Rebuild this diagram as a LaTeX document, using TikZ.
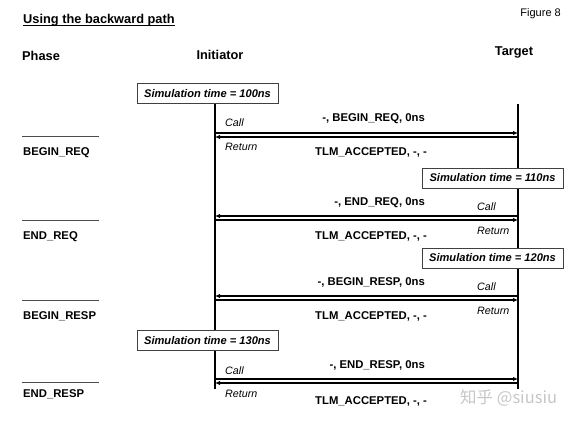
\documentclass[tikz,border=0pt]{standalone}
\usepackage{fontspec}
\setmainfont{Liberation Sans}
\newfontfamily\cjkfont{Noto Sans CJK SC}
\usetikzlibrary{arrows.meta}
\begin{document}
\begin{tikzpicture}[x=1pt,y=-1pt,
  lbl/.style={font=\fontsize{11.3}{13}\selectfont\bfseries, inner sep=0},
  hdr/.style={font=\fontsize{12.8}{15}\selectfont\bfseries, inner sep=0},
  cr/.style={font=\fontsize{10.7}{13}\selectfont\itshape, inner sep=0},
  simbox/.style={draw=black!75, line width=0.8pt, fill=white, minimum width=141pt, minimum height=20pt, inner sep=0, font=\fontsize{11.1}{13}\selectfont\bfseries\itshape},
  life/.style={line width=2pt},
  msg/.style={line width=1.2pt, -{Latex[length=5pt,width=4.5pt]}},
  sep/.style={line width=1pt, black!70}]
\fill[white] (0,0) rectangle (579,422);
\useasboundingbox (0,0) rectangle (579,422);

% title and headers
\node[hdr, anchor=base west] (title) at (23,24) {Using the backward path};
\draw[line width=1pt] ([yshift=-1.6pt]title.base west) -- ([yshift=-1.6pt]title.base east);
\node[font=\fontsize{11}{13}\selectfont, inner sep=0, anchor=base east] (fig) at (561,16.5) {Figure 8};
\node[hdr, anchor=base west] (phase) at (22,60.6) {Phase};
\node[hdr, anchor=base] (init) at (220,59.6) {Initiator};
\node[hdr, anchor=base] (targ) at (514,55.6) {Target};

% lifelines
\coordinate (I1) at (215,104);
\coordinate (I2) at (215,389);
\coordinate (T1) at (518,104);
\coordinate (T2) at (518,389);
\draw[life] (I1) -- (I2);
\draw[life] (T1) -- (T2);

% simulation time boxes
\node[simbox] (s100) at (207.5,93.5) {Simulation time = 100ns};
\node[simbox] (s110) at (492.5,178) {Simulation time = 110ns};
\node[simbox] (s120) at (492.5,258) {Simulation time = 120ns};
\node[simbox] (s130) at (207.5,340.5) {Simulation time = 130ns};

% message end points
\coordinate (a1i) at (215,133); \coordinate (a1t) at (518,133);
\coordinate (b1i) at (215,137); \coordinate (b1t) at (518,137);
\coordinate (a2i) at (215,216); \coordinate (a2t) at (518,216);
\coordinate (b2i) at (215,220); \coordinate (b2t) at (518,220);
\coordinate (a3i) at (215,296); \coordinate (a3t) at (518,296);
\coordinate (b3i) at (215,300); \coordinate (b3t) at (518,300);
\coordinate (a4i) at (215,379); \coordinate (a4t) at (518,379);
\coordinate (b4i) at (215,383); \coordinate (b4t) at (518,383);

% messages
\draw[msg] (a1i) -- (a1t);
\draw[msg] (b1t) -- (b1i);
\draw[msg] (a2t) -- (a2i);
\draw[msg] (b2i) -- (b2t);
\draw[msg] (a3t) -- (a3i);
\draw[msg] (b3i) -- (b3t);
\draw[msg] (a4i) -- (a4t);
\draw[msg] (b4t) -- (b4i);

% message labels
\node[lbl, anchor=base east] (m1) at (425,122) {-, BEGIN\_REQ, 0ns};
\node[lbl, anchor=base west] (r1) at (315,156) {TLM\_ACCEPTED, -, -};
\node[lbl, anchor=base east] (m2) at (425,206) {-, END\_REQ, 0ns};
\node[lbl, anchor=base west] (r2) at (315,240) {TLM\_ACCEPTED, -, -};
\node[lbl, anchor=base east] (m3) at (425,286) {-, BEGIN\_RESP, 0ns};
\node[lbl, anchor=base west] (r3) at (315,320) {TLM\_ACCEPTED, -, -};
\node[lbl, anchor=base east] (m4) at (425,369) {-, END\_RESP, 0ns};
\node[lbl, anchor=base west] (r4) at (315,404) {TLM\_ACCEPTED, -, -};

% call / return
\node[cr, anchor=base west] (c1) at (225,127) {Call};
\node[cr, anchor=base west] (rt1) at (225,151) {Return};
\node[cr, anchor=base west] (c2) at (477,211) {Call};
\node[cr, anchor=base west] (rt2) at (477,235) {Return};
\node[cr, anchor=base west] (c3) at (477,291) {Call};
\node[cr, anchor=base west] (rt3) at (477,315) {Return};
\node[cr, anchor=base west] (c4) at (225,374) {Call};
\node[cr, anchor=base west] (rt4) at (225,398) {Return};

% phase column
\draw[sep] (22,137) -- (99,137);
\draw[sep] (22,221) -- (99,221);
\draw[sep] (22,301) -- (99,301);
\draw[sep] (22,383) -- (99,383);
\node[lbl, anchor=base west] (p1) at (23,156) {BEGIN\_REQ};
\node[lbl, anchor=base west] (p2) at (23,240) {END\_REQ};
\node[lbl, anchor=base west] (p3) at (23,320) {BEGIN\_RESP};
\node[lbl, anchor=base west] (p4) at (23,398) {END\_RESP};

% watermark
\node[anchor=west, inner sep=0, text=black!22, font=\fontsize{16.5}{18}\selectfont\cjkfont] (wm) at (460,398) {知乎 @siusiu};
\end{tikzpicture}
\end{document}
